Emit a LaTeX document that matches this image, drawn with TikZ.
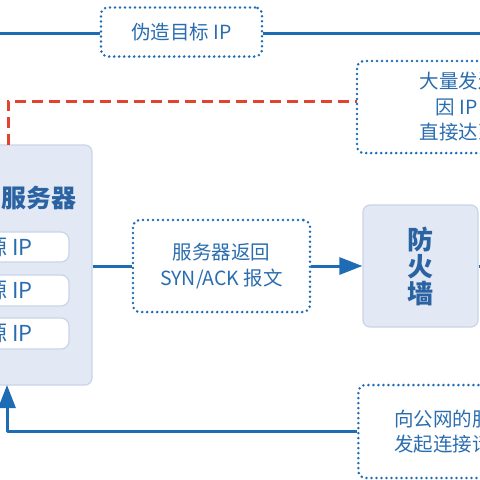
\documentclass[tikz,border=0pt]{standalone}
\usepackage{fontspec}
\setmainfont{Noto Sans CJK SC}
\usetikzlibrary{arrows.meta}
\definecolor{lineblue}{HTML}{1E6CB4}
\definecolor{txtblue}{HTML}{2A6DAF}
\definecolor{titleblue}{HTML}{2B63A2}
\definecolor{boxfill}{HTML}{E2E9F5}
\definecolor{boxdraw}{HTML}{C9D4E8}
\definecolor{dashred}{HTML}{E2432F}
\begin{document}
\begin{tikzpicture}[x=1pt,y=-1pt,
  dotbox/.style={draw=lineblue, line width=2.8pt, dash pattern=on 0pt off 5pt, line cap=round, rounded corners=7pt},
  panel/.style={draw=boxdraw, fill=boxfill, line width=1.2pt, rounded corners=7pt, inner sep=0pt},
  ipbox/.style={draw=boxdraw, fill=white, line width=1.2pt, rounded corners=8pt, inner sep=0pt},
  conn/.style={draw=lineblue, line width=3pt, line join=round},
  tip/.style={-{Triangle[length=23pt,width=17pt]}},
  lbl/.style={text=txtblue, font=\fontsize{19.5}{25.5}\selectfont, align=center, inner sep=0pt},
  title/.style={text=titleblue, font=\fontsize{25}{28}\selectfont\bfseries, inner sep=0pt},
  iptext/.style={text=txtblue, font=\fontsize{22}{26}\selectfont, inner sep=0pt},
  fwtext/.style={text=titleblue, font=\fontsize{26}{27}\selectfont\bfseries, align=center}
]
\useasboundingbox (0,0) rectangle (480,480);
\clip (0,0) rectangle (480,480);

% top label and line
\node[dotbox, lbl, minimum width=161pt, minimum height=49pt] (fake) at (181.5,32) {伪造目标 IP};
\coordinate (topL) at (-10,33);
\coordinate (topR) at (520,33);
\draw[conn] (topL) -- (fake.west |- topL);
\draw[conn] (fake.east |- topR) -- (topR);

% flood label (top right)
\node[dotbox, lbl, minimum width=262pt, minimum height=92pt] (flood) at (488,107) {大量发送的报文\\因 IP 被伪造\\直接达到服务器};

% server panel
\node[panel, minimum width=200pt, minimum height=240pt] (server) at (-8,265) {};
\node[title, anchor=east] (stitle) at (77,198) {服务器};
\node[ipbox, minimum width=140pt, minimum height=30pt] (ip1) at (-1,247) {};
\node[ipbox, minimum width=140pt, minimum height=31pt] (ip2) at (-1,290.5) {};
\node[ipbox, minimum width=140pt, minimum height=31pt] (ip3) at (-1,333.5) {};
\node[iptext, anchor=east] (ip1t) at (33,247) {伪造源 IP};
\node[iptext, anchor=east] (ip2t) at (33,290.5) {伪造源 IP};
\node[iptext, anchor=east] (ip3t) at (33,333.5) {伪造源 IP};

% red dashed path
\coordinate (redS) at (8,145);
\coordinate (redE) at (357,101);
\draw[dashred, line width=3pt, dash pattern=on 11pt off 6pt] (redS) |- (redE);

% SYN/ACK label
\node[dotbox, lbl, minimum width=177pt, minimum height=92pt] (syn) at (221.5,266) {服务器返回\\SYN/ACK 报文};

% firewall
\node[panel, fwtext, minimum width=115pt, minimum height=122pt] (fw) at (420.5,266) {防\\火\\墙};

\draw[conn] (syn.west -| server.east) -- (syn.west);
\draw[conn, tip] (syn.east) -- (fw.west);
\coordinate (fwOut) at (520,266);
\draw[conn] (fw.east) -- (fwOut);

% bottom request label
\node[dotbox, lbl, minimum height=93pt, text width=200pt, align=left, inner xsep=36pt, anchor=west] (req) at (357,431.5) {向公网的服务器\\发起连接请求};
\coordinate (srvIn) at (7,385);
\draw[conn, tip] (req.west) -| (srvIn);
\end{tikzpicture}
\end{document}
